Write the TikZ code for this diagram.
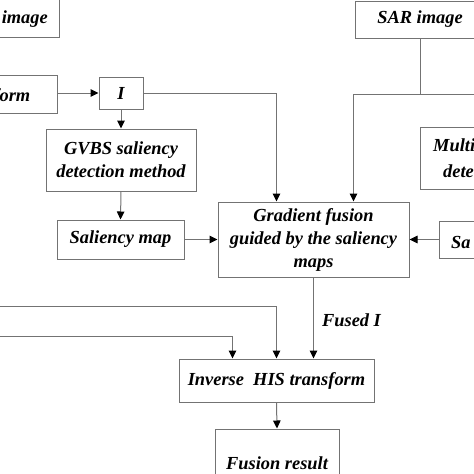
\documentclass[tikz,border=0pt]{standalone}
\usepackage{fontspec}
\setmainfont{Liberation Serif}
\usetikzlibrary{arrows.meta}
\begin{document}
\begin{tikzpicture}[x=1pt,y=-1pt,
  box/.style={draw=black!55, line width=1pt, inner sep=0pt, align=center,
    font=\fontsize{18.4}{23}\selectfont\bfseries\itshape},
  lbl/.style={inner sep=0pt, font=\fontsize{18.4}{23}\selectfont\bfseries\itshape},
  link/.style={draw=black!55, line width=1pt},
  arr/.style={link, -{Triangle[length=8pt,width=7.5pt,color=black]}}]
\useasboundingbox (0,0) rectangle (474,474);
\fill[white] (0,0) rectangle (474,474);
% partial boxes at the edges
\node[box, minimum width=130pt, minimum height=57pt] (img) at (-6,8.5) {};
\node[lbl, anchor=east] (imgtxt) at (48,19) {image};
\node[box, minimum width=137pt, minimum height=38pt] (form) at (-11.5,94) {};
\node[lbl, anchor=east] (formtxt) at (30.5,97) {form};
\node[box, minimum width=130pt, minimum height=37pt] (sar) at (420,19.5) {SAR image};
\node[box, minimum width=120pt, minimum height=62pt] (multi) at (480,158) {};
\node[lbl, anchor=west] (multitxt) at (433,145) {Multi};
\node[lbl, anchor=west] (detetxt) at (443,171) {dete};
\node[box, minimum width=80pt, minimum height=37pt] (sa) at (479,239.5) {};
\node[lbl, anchor=west] (satxt) at (451,242) {Sa};
% main boxes
\node[box, minimum width=44pt, minimum height=32pt] (I) at (121,93) {I};
\node[box, minimum width=150pt, minimum height=62pt] (gvbs) at (121,160) {GVBS saliency\\detection method};
\node[box, minimum width=127pt, minimum height=39pt] (salmap) at (120.5,239.5) {Saliency map};
\node[box, minimum width=191pt, minimum height=75pt] (grad) at (313.5,239.5) {Gradient fusion\\guided by the saliency\\maps};
\node[box, minimum width=195pt, minimum height=43pt] (inv) at (276.5,380.5) {Inverse\ \ HIS transform};
\node[box, minimum width=124pt, minimum height=70pt] (fus) at (277,464) {};
\node[lbl] (fustxt) at (277,463) {Fusion result};
\node[lbl] (fusedI) at (351.5,320) {Fused I};
% free ends
\coordinate (e1) at (480,94);
\coordinate (e2) at (-5,306);
\coordinate (e3) at (-5,336);
\coordinate (j1) at (420,94);
% connectors
\draw[arr] (form.east |- I.west) -- (I.west);
\draw[arr] (I.east) -| ([xshift=59pt]grad.north west);
\draw[link] (sar.south) -- (j1);
\draw[arr] (e1) -| ([xshift=136pt]grad.north west);
\draw[arr] (I.south) -- (gvbs.north);
\draw[arr] (gvbs.south) -- (salmap.north);
\draw[arr] (salmap.east) -- (salmap.east -| grad.west);
\draw[arr] (sa.west) -- (sa.west -| grad.east);
\draw[arr] (grad.south) -- (grad.south |- inv.north);
\draw[arr] (e2) -| (inv.north);
\draw[arr] (e3) -| ([xshift=54pt]inv.north west);
\draw[arr] (inv.south) -- (fus.north);
\end{tikzpicture}
\end{document}
